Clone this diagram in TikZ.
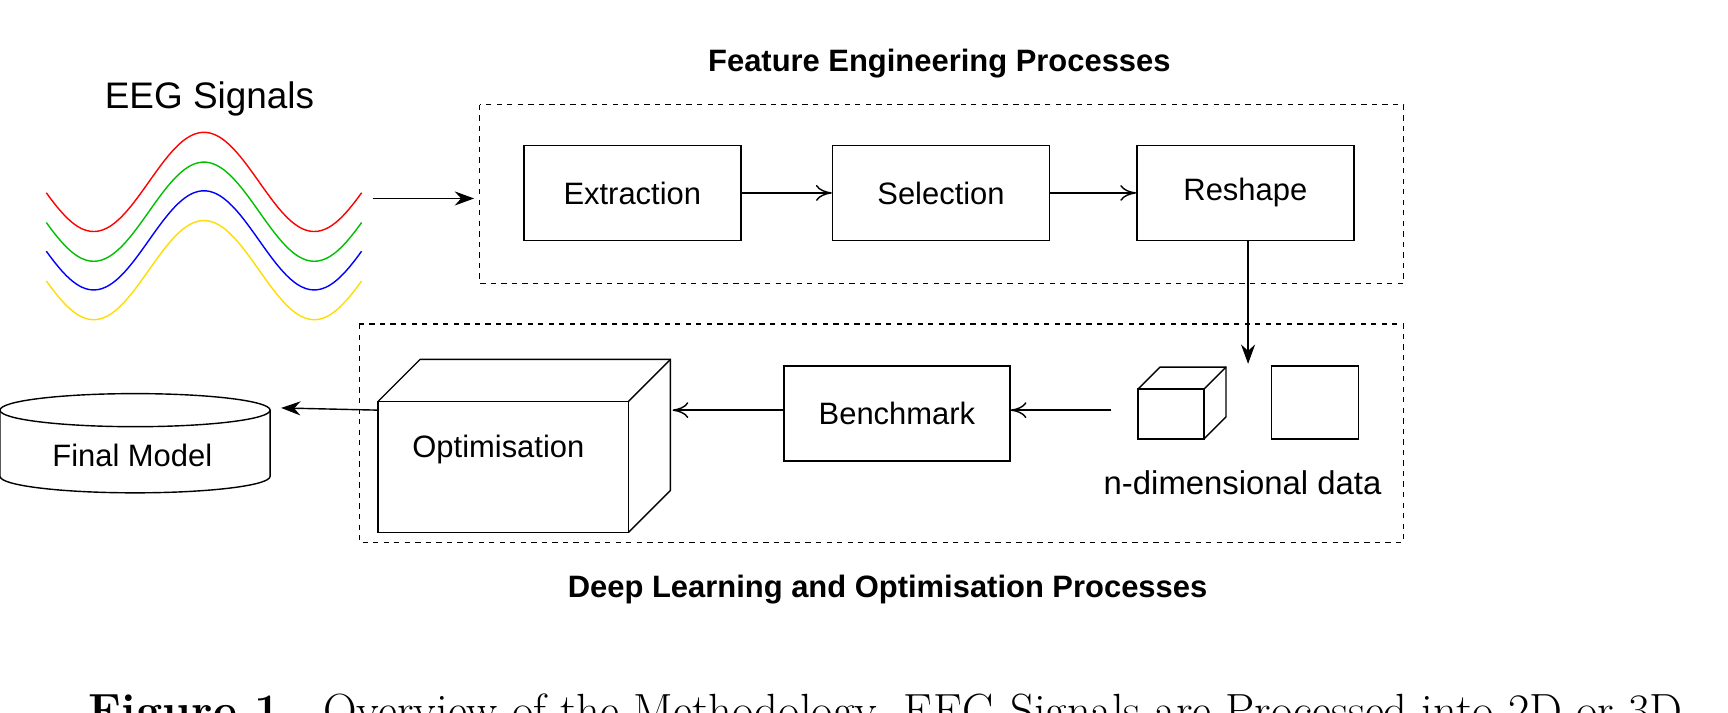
\documentclass[tikz,border=0pt]{standalone}
\usepackage{fontspec}
\setmainfont{Liberation Sans}
\newfontfamily\capfont{Latin Modern Roman}
\usetikzlibrary{arrows.meta,shapes.geometric}
\begin{document}
\begin{tikzpicture}[x=0.02205cm,y=-0.02205cm,
  txt/.style={font=\fontsize{17.6}{21}\selectfont},
  procbox/.style={draw,thick,minimum width=4.34cm,minimum height=1.9cm,txt},
  dbox/.style={draw,dashed,thick},
  oarr/.style={thick,-{To[length=9pt,width=9pt]}},
  farr/.style={thick,-{Stealth[length=11pt,width=8pt]}}]
\useasboundingbox (0,0) rectangle (1567.3,645.8);
\begin{scope}
\clip (0,0) rectangle (1567.3,645.8);
\node[font=\fontsize{21}{25}\selectfont] (eeg) at (190,90) {EEG Signals};
\foreach \c/\col in {165/red,192/green!75!black,218/blue,245/yellow!80!orange}
  \draw[\col,thick,domain=42:328,samples=80,smooth] plot (\x,{\c-45*cos(1.8*(\x-185))});
\coordinate (sigend) at (338,180);
\node[font=\bfseries\fontsize{17.6}{21}\selectfont] (fet) at (852,58) {Feature Engineering Processes};
\draw[dbox] (435,95) rectangle (1273,257);
\coordinate (boxin) at (430,180);
\draw[farr] (sigend) -- (boxin);
\node[procbox] (ext) at (573.5,175) {Extraction};
\node[procbox] (sel) at (853.5,175) {Selection};
\node[procbox] (res) at (1129.5,175) {Reshape};
\draw[oarr] (ext) -- (sel);
\draw[oarr] (sel) -- (res);
\draw[dbox] (326,294) rectangle (1273,492);
\node[font=\bfseries\fontsize{17.6}{21}\selectfont] (dlt) at (805,535) {Deep Learning and Optimisation Processes};
\coordinate (down) at (1132,330);
\draw[farr] (res.south -| down) -- (down);
% small cube
\draw[thick] (1032,353) rectangle (1092,398);
\draw[thick] (1032,353) -- (1052,333) -- (1112,333) -- (1112,378) -- (1092,398);
\draw[thick] (1092,353) -- (1112,333);
\node[draw,thick,minimum width=1.74cm,minimum height=1.46cm] (sq) at (1192.5,365) {};
\node[font=\fontsize{18.7}{22}\selectfont] (nd) at (1127,438) {n-dimensional data};
\coordinate (dataL) at (1008,372);
\node[procbox,minimum width=4.52cm] (bench) at (813.5,375) {Benchmark};
\draw[oarr] (dataL) -- (bench.east |- dataL);
% cuboid
\draw[thick] (343,364) rectangle (570,483);
\draw[thick] (343,364) -- (381,326) -- (608,326) -- (608,445) -- (570,483);
\draw[thick] (570,364) -- (608,326);
\node[txt] (opt) at (452,408) {Optimisation};
\coordinate (optR) at (610,372);
\coordinate (optL) at (343,372);
\draw[oarr] (bench.west |- dataL) -- (optR);
% cylinder
\draw[thick] (0,372) -- (0,432) arc[start angle=180,end angle=0,x radius=122.5,y radius=15] -- (245,372);
\draw[thick] (122.5,372) ellipse[x radius=122.5,y radius=15];
\node[txt] (fm) at (120,413) {Final Model};
\coordinate (cylR) at (255,370);
\draw[farr] (optL) -- (cylR);
\node[anchor=base west,font=\capfont\fontsize{26.5}{30}\selectfont] (cap) at (75,659) {\textbf{Figure 1.}\ \ Overview of the Methodology. EEG Signals are Processed into 2D or 3D};
\end{scope}
\end{tikzpicture}
\end{document}
